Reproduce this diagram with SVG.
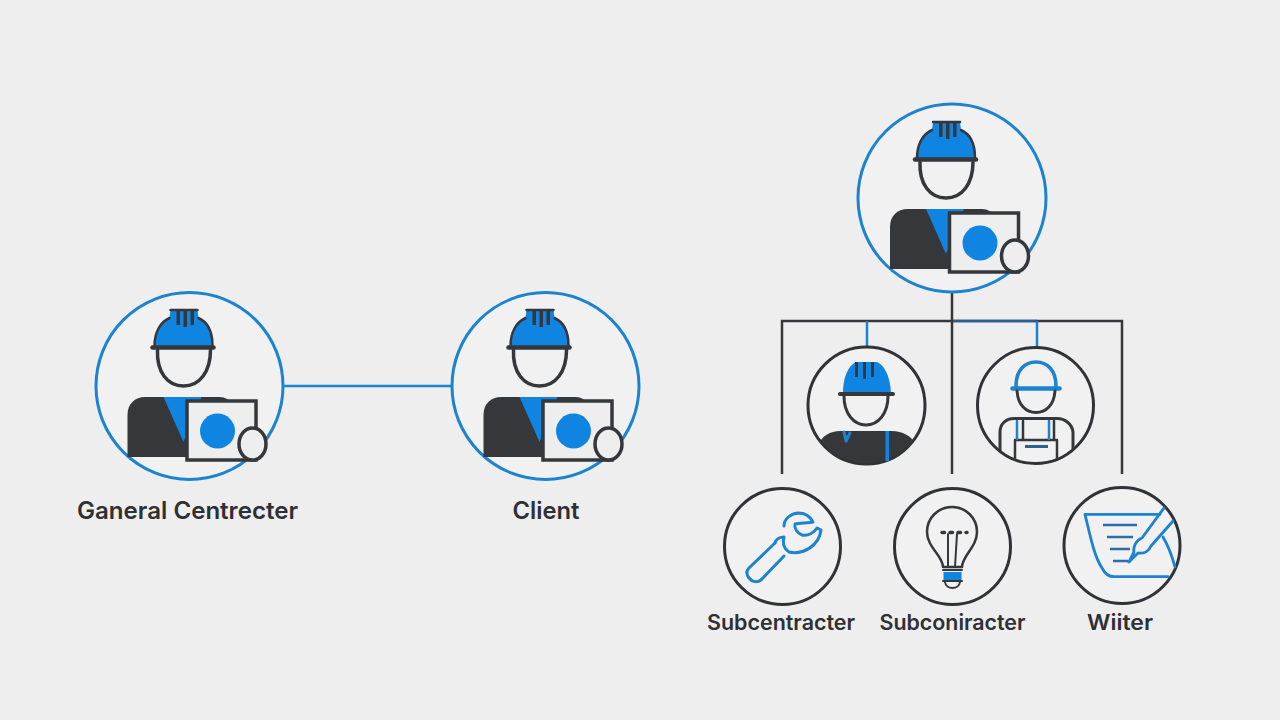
<svg xmlns="http://www.w3.org/2000/svg" width="1280" height="720" viewBox="0 0 1280 720">
<style>
.bg{fill:#eeeeee}
.ring-b{fill:#f1f1f1;stroke:#1b83cf;stroke-width:3}
.ring-d{fill:#f1f1f1;stroke:#303236;stroke-width:3}
.lb{fill:none;stroke:#1b83cf;stroke-linecap:round;stroke-linejoin:round}
.ld{fill:none;stroke:#35373b;stroke-linecap:round;stroke-linejoin:round}
.fb{fill:#0f84e0}
.fd{fill:#35373b}
.conn-d{stroke:#35373b;stroke-width:2.500;fill:none}
.conn-b{stroke:#1b83cf;stroke-width:2.500;fill:none}
text{font-family:Inter,"Liberation Sans",sans-serif;font-weight:600;fill:#2e3034;text-anchor:middle}
</style>
<defs>
<g id="worker">
<path class="fb" d="M-35-39C-35-54-29-64-20-68L-19-76H8L9-68C18-64 23-54 23-39Z"/>
<path class="fd" d="M-13-76h3.500v15h-3.500zM-6-76h3.500v17h-3.500zM1-76h3.500v15h-3.500z"/>
<path class="ld" stroke-width="2.500" d="M-20-68C-29-64-35-54-35-40M9-68C18-64 23-54 23-40M-19-76H8"/>
<path class="ld" stroke-width="4.500" d="M-37-38.500H24"/>
<path class="ld" stroke-width="3.500" d="M-32-36C-33-14-22 0-6 0S21-14 21-36"/>
<path class="fd" d="M-62 71V29C-62 18-55 11-44 11H30C36 11 40 14 42 18L42 71Z"/>
<path class="fb" d="M-26 11H12L-6 56Z"/>
<rect x="-2.500" y="15" width="69" height="59" fill="#eeeeee" stroke="#35373b" stroke-width="3.500"/>
<circle cx="28" cy="45" r="17.500" class="fb"/>
<ellipse cx="63" cy="58" rx="13.500" ry="16" fill="#eeeeee" stroke="#35373b" stroke-width="3.500"/>
</g>
<clipPath id="c2"><circle cx="866.500" cy="405.500" r="58"/></clipPath>
<clipPath id="c3"><circle cx="1035.500" cy="405.500" r="57"/></clipPath>
</defs>
<rect class="bg" width="1280" height="720"/>
<g id="connectors">
<path class="conn-b" d="M284 386H452"/>
<path class="conn-d" d="M952 292V474M782 474V321H1122V474"/>
<path class="conn-b" d="M867 321V348M1037 321V348"/>
<path stroke="#2b5f8f" stroke-width="2.500" fill="none" d="M953 321H1037"/>
</g>
<g id="general-contractor">
<circle class="ring-b" cx="189.500" cy="386" r="93.500"/>
<use href="#worker" x="189.500" y="386"/>
<text x="187.500" y="519" font-size="24" textLength="221" lengthAdjust="spacingAndGlyphs">Ganeral Centrecter</text>
</g>
<g id="client">
<circle class="ring-b" cx="545.500" cy="386" r="93.500"/>
<use href="#worker" x="545.500" y="386"/>
<text x="546" y="519" font-size="24" textLength="67" lengthAdjust="spacingAndGlyphs">Client</text>
</g>
<g id="lead">
<circle class="ring-b" cx="952" cy="198" r="94"/>
<use href="#worker" x="952" y="198"/>
</g>
<g id="worker-dark">
<circle class="ring-d" cx="866.500" cy="405.500" r="58.500"/>
<path class="fd" clip-path="url(#c2)" d="M818 466V445C822 436 830 431 840 431H892C902 431 912 436 916 445V466Z"/>
<path class="fb" d="M885.500 431H889V461H885.500Z"/>
<path class="lb" stroke-width="3" d="M844 432L846 441L850 433M846 441L846 437"/>
<path class="fb" d="M843 393C843 373 851 364 856 362H877C884 365 890 375 891 393Z"/>
<path class="fd" d="M855 362h3v15h-3zM863 362h3v17h-3zM871 362h3v15h-3z"/>
<path class="ld" stroke-width="4" d="M840 394H893"/>
<path class="ld" stroke-width="3" d="M844 396C844 414 854 425 866 425S888 414 888 396"/>
</g>
<g id="worker-light">
<circle class="ring-d" cx="1035.500" cy="405.500" r="58"/>
<path class="lb" stroke-width="3.500" d="M1016 386C1016 370 1025 362 1036 362S1056 370 1056 386"/>
<path class="lb" stroke-width="4.500" stroke-linecap="butt" d="M1012.500 388.500H1059.500"/>
<path class="ld" stroke-width="3" d="M1017 391C1018 405 1026 412.500 1036 412.500S1054 405 1055 391"/>
<g clip-path="url(#c3)">
<path class="ld" stroke-width="3" d="M1000 462V432C1000 424 1006 418.500 1014 418.500H1057C1065 418.500 1072 424 1073 432V462"/>
<path class="ld" stroke-width="2.500" d="M1015 462V440H1057V462"/>
<path class="lb" stroke-width="2.500" d="M1017 421V439M1049 421V439"/>
<path class="ld" stroke-width="2.500" d="M1023 421V439M1054 421V439"/>
</g>
<path stroke="#2e5f92" stroke-width="3" fill="none" d="M1025 446.500H1048"/>
</g>
<g id="subcontractor-wrench">
<circle class="ring-d" cx="782.500" cy="546.500" r="58"/>
<path class="lb" stroke-width="3" d="M775 543L749 568C746 571 746 574 749 578C752 582 757 583 761 580L784 556"/>
<path class="lb" stroke-width="3" d="M775 543C776 539 780 537 784 537C782 543 784 549 789 552C803 555 819 546 821 530L817 528C814 533 808 536 802 535C797 533 794 528 795 524C800 523 808 523 813 522C810 516 805 513 798 513C790 514 784 519 784 526"/>
</g>
<g id="subcontractor-bulb">
<circle class="ring-d" cx="952.500" cy="546.500" r="58"/>
<path class="ld" stroke-width="2.500" d="M943 567C943 556 927 547 927 532C927 518 938 507 952 507S977 518 977 532C977 547 962 556 962 567Z"/>
<path class="ld" stroke-width="3.500" stroke-dasharray="2.500 5.500" d="M942 532.500H967"/>
<path class="ld" stroke-width="2" d="M948 534V567M957 534L955 567"/>
<path class="fb" d="M943.500 572H961.500V580H943.500Z"/>
<path class="ld" stroke-width="2" d="M943 570H962M943 581H962M945 582C946 590 959 590 960 582"/>
</g>
<g id="writer">
<circle class="ring-d" cx="1122" cy="545.500" r="58"/>
<path class="lb" stroke-width="2.800" d="M1160 514.300H1085C1090 535 1094 556 1102 568C1105 574 1109 576.700 1114 576.700H1168"/>
<path class="lb" stroke-width="2.800" d="M1163 537C1169 547 1172 556 1175 567"/>
<path class="lb" stroke-width="2.800" d="M1164 508L1142 538C1136 540 1133 547 1134 552L1129 562L1138 553C1144 554 1149 551 1151 546L1173 521"/>
<path stroke="#2e6da6" stroke-width="2.500" fill="none" d="M1103 525H1137M1107 537H1133M1110 549H1130M1113 561H1128"/>
</g>
<g id="labels">
<text x="781" y="630" font-size="21" textLength="148" lengthAdjust="spacingAndGlyphs">Subcentracter</text>
<text x="952.500" y="630" font-size="21" textLength="146" lengthAdjust="spacingAndGlyphs">Subconiracter</text>
<text x="1120" y="630" font-size="21" textLength="66" lengthAdjust="spacingAndGlyphs">Wiiter</text>
</g>
</svg>
